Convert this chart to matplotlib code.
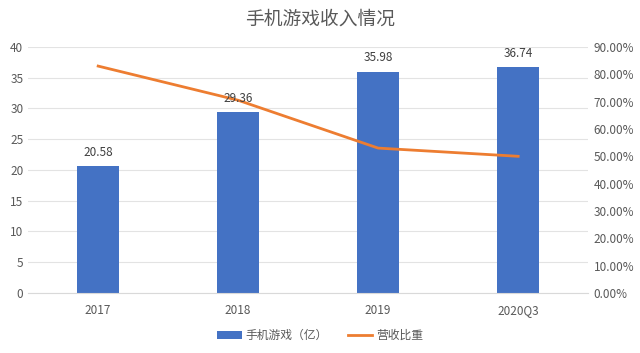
import matplotlib
matplotlib.use('Agg')
import matplotlib.pyplot as plt
from matplotlib.ticker import FuncFormatter

plt.rcParams['font.family'] = ['Noto Sans CJK SC', 'DejaVu Sans']

years = ['2017', '2018', '2019', '2020Q3']
revenue = [20.58, 29.36, 35.98, 36.74]
share = [83.0, 70.5, 53.0, 50.0]

blue = '#4472C4'
orange = '#ED7D31'
grey = '#595959'

fig = plt.figure(figsize=(6.4, 3.53), dpi=100)
ax = fig.add_axes([0.044, 0.170, 0.875, 0.697])
x = list(range(len(years)))

bars = ax.bar(x, revenue, width=0.3, color=blue, label='手机游戏（亿）', zorder=2)

ax.set_xlim(-0.5, 3.5)
ax.set_ylim(0, 40)
ax.set_yticks(range(0, 41, 5))
ax.set_xticks(x)
ax.set_xticklabels(years)
ax.grid(axis='y', color='#E3E3E3', linewidth=0.8, zorder=0)
for s in ax.spines.values():
    s.set_visible(False)
ax.spines['bottom'].set_visible(True)
ax.spines['bottom'].set_color('#D9D9D9')
ax.tick_params(length=0, labelsize=8.5, colors=grey)
ax.tick_params(axis='x', pad=8)

ax2 = ax.twinx()
line, = ax2.plot(x, share, color=orange, linewidth=2.0, label='营收比重', zorder=3)
ax2.set_ylim(0, 90)
ax2.set_yticks(range(0, 91, 10))
ax2.yaxis.set_major_formatter(FuncFormatter(lambda v, p: f'{v:.2f}%'))
for s in ax2.spines.values():
    s.set_visible(False)
ax2.tick_params(length=0, labelsize=8.5, colors=grey, pad=4)

# data labels above the line
for xi, v in zip(x, revenue):
    ax2.text(xi, v + 1.2, f'{v:.2f}', ha='center', va='bottom', fontsize=8.5,
             color='#404040', transform=ax.transData, zorder=5)

fig.text(0.5, 0.945, '手机游戏收入情况', ha='center', va='center', fontsize=13.5, color=grey)

fig.legend([bars, line], ['手机游戏（亿）', '营收比重'], loc='center', bbox_to_anchor=(0.5, 0.05),
           ncol=2, frameon=False, fontsize=8.5, labelcolor=grey, handlelength=2.1,
           handletextpad=0.3, columnspacing=1.7)

fig.savefig('out.png', dpi=100)
